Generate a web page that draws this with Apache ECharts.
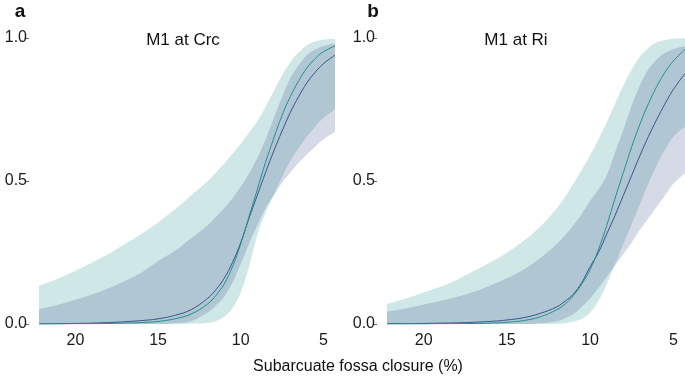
<!DOCTYPE html>
<html>
<head>
<meta charset="utf-8">
<script src="https://cdn.jsdelivr.net/npm/echarts@6/dist/echarts.min.js"></script>
<style>
  html, body { margin: 0; padding: 0; background: #fff; }
  #chart { width: 685px; height: 382px; }
</style>
</head>
<body>
<div id="chart"></div>
<script>
// x positions (subarcuate fossa closure, %), shared by every curve
var closure = [22.2, 21, 20, 19, 18, 17, 16, 15, 14, 13, 12, 11.5, 11, 10.5, 10, 9.5, 9, 8.5, 8, 7.5, 7, 6.5, 6, 5.5, 5, 4.3];
var xTicks = [5, 10, 15, 20];
var yTicks = [0, 0.5, 1];

// panel a : M1 at Crc
var tealUpperA = [0.133, 0.16, 0.186, 0.215, 0.245, 0.28, 0.315, 0.355, 0.40, 0.45, 0.50, 0.53, 0.56, 0.595, 0.63, 0.67, 0.71, 0.76, 0.815, 0.87, 0.915, 0.95, 0.975, 0.988, 0.994, 0.997];
var tealLowerA = [0, 0, 0, 0, 0, 0, 0, 0, 0.001, 0.001, 0.004, 0.01, 0.025, 0.055, 0.11, 0.2, 0.31, 0.39, 0.45, 0.515, 0.57, 0.615, 0.655, 0.69, 0.72, 0.75];
var tealLineA  = [0, 0, 0.001, 0.001, 0.002, 0.003, 0.005, 0.009, 0.018, 0.035, 0.07, 0.1, 0.14, 0.2, 0.28, 0.375, 0.47, 0.565, 0.65, 0.73, 0.795, 0.85, 0.895, 0.928, 0.952, 0.972];
var navyUpperA = [0.051, 0.068, 0.085, 0.103, 0.125, 0.15, 0.18, 0.22, 0.255, 0.30, 0.345, 0.375, 0.405, 0.44, 0.48, 0.525, 0.58, 0.645, 0.72, 0.795, 0.86, 0.905, 0.94, 0.96, 0.972, 0.982];
var navyLowerA = [0, 0, 0, 0, 0, 0, 0, 0, 0.002, 0.01, 0.04, 0.065, 0.095, 0.145, 0.21, 0.28, 0.345, 0.405, 0.45, 0.495, 0.53, 0.563, 0.593, 0.62, 0.645, 0.672];
var navyLineA  = [0, 0.001, 0.002, 0.003, 0.005, 0.008, 0.012, 0.018, 0.03, 0.05, 0.09, 0.12, 0.16, 0.215, 0.285, 0.37, 0.45, 0.53, 0.605, 0.675, 0.74, 0.795, 0.843, 0.88, 0.91, 0.94];

// panel b : M1 at Ri
var tealUpperB = [0.07, 0.09, 0.11, 0.13, 0.155, 0.185, 0.215, 0.25, 0.29, 0.34, 0.405, 0.445, 0.49, 0.54, 0.59, 0.645, 0.705, 0.77, 0.835, 0.89, 0.935, 0.965, 0.985, 0.993, 0.997, 0.999];
var tealLowerB = [0, 0, 0, 0, 0, 0, 0, 0, 0, 0, 0.001, 0.003, 0.008, 0.018, 0.04, 0.08, 0.14, 0.21, 0.28, 0.35, 0.42, 0.49, 0.555, 0.61, 0.655, 0.69];
var tealLineB  = [0, 0, 0, 0.001, 0.001, 0.002, 0.003, 0.006, 0.012, 0.025, 0.05, 0.07, 0.1, 0.14, 0.19, 0.26, 0.345, 0.44, 0.53, 0.62, 0.7, 0.77, 0.83, 0.88, 0.92, 0.96];
var navyUpperB = [0.043, 0.055, 0.068, 0.08, 0.095, 0.112, 0.135, 0.16, 0.19, 0.23, 0.28, 0.31, 0.345, 0.385, 0.43, 0.47, 0.52, 0.6, 0.68, 0.765, 0.835, 0.89, 0.925, 0.948, 0.961, 0.972];
var navyLowerB = [0, 0, 0, 0, 0, 0, 0, 0, 0, 0.003, 0.01, 0.02, 0.035, 0.06, 0.09, 0.125, 0.165, 0.205, 0.245, 0.285, 0.33, 0.37, 0.41, 0.45, 0.49, 0.527];
var navyLineB  = [0.001, 0.001, 0.002, 0.003, 0.004, 0.006, 0.009, 0.014, 0.022, 0.037, 0.06, 0.08, 0.105, 0.145, 0.2, 0.25, 0.315, 0.38, 0.45, 0.52, 0.59, 0.655, 0.715, 0.77, 0.82, 0.876];

var TEAL = '#21908C';
var NAVY = '#3B528B';
var FONT = '"Liberation Sans", Arial, sans-serif';

function pairs(ys) {
    var out = [];
    for (var i = 0; i < closure.length; ++i) {
        out.push([closure[i], ys[i]]);
    }
    return out;
}

// value first, x second: ECharts stacks on the first numeric dimension
function stackPairs(ys) {
    var out = [];
    for (var i = 0; i < closure.length; ++i) {
        out.push([ys[i], closure[i]]);
    }
    return out;
}

function diff(up, lo) {
    var out = [];
    for (var i = 0; i < up.length; ++i) {
        out.push(up[i] - lo[i]);
    }
    return out;
}

// a band = invisible lower line + stacked (upper - lower) area
function band(idx, key, lower, upper, color) {
    return [{
        type: 'line', xAxisIndex: idx, yAxisIndex: idx, stack: key,
        data: stackPairs(lower), encode: { x: 1, y: 0 }, symbol: 'none', smooth: 0.35,
        lineStyle: { opacity: 0 }, silent: true, z: 1
    }, {
        type: 'line', xAxisIndex: idx, yAxisIndex: idx, stack: key,
        data: stackPairs(diff(upper, lower)), encode: { x: 1, y: 0 }, symbol: 'none', smooth: 0.35,
        lineStyle: { opacity: 0 }, areaStyle: { color: color, opacity: 0.21 },
        silent: true, z: 1
    }];
}

function curve(idx, ys, color) {
    return {
        type: 'line', xAxisIndex: idx, yAxisIndex: idx,
        data: pairs(ys), symbol: 'none', smooth: 0.4,
        lineStyle: { color: color, width: 1 }, silent: true, z: 3
    };
}

function xAxis(idx) {
    return {
        type: 'value', gridIndex: idx, inverse: true, min: 4.3, max: 22.2,
        axisLine: { show: false }, axisTick: { show: false }, splitLine: { show: false },
        axisLabel: { customValues: xTicks, fontSize: 16, color: '#1a1a1a', fontFamily: FONT, margin: 9 }
    };
}

function yAxis(idx) {
    return {
        type: 'value', gridIndex: idx, min: 0, max: 1, offset: 10,
        axisLine: { show: false }, splitLine: { show: false },
        axisTick: { show: true, customValues: yTicks, length: 3, lineStyle: { color: '#666', width: 1 } },
        axisLabel: {
            customValues: yTicks, fontSize: 16, color: '#1a1a1a', fontFamily: FONT, margin: 2,
            formatter: function (v) { return v.toFixed(1); }
        }
    };
}

function label(x, y, text, size, weight) {
    return {
        type: 'text', x: x, y: y, silent: true,
        style: {
            text: text, fontSize: size, fontWeight: weight || 'normal', fontFamily: FONT,
            fill: '#111', align: 'center', verticalAlign: 'middle'
        }
    };
}

var series = []
    .concat(band(0, 'tealA', tealLowerA, tealUpperA, TEAL))
    .concat(band(0, 'navyA', navyLowerA, navyUpperA, NAVY))
    .concat([curve(0, navyLineA, NAVY), curve(0, tealLineA, TEAL)])
    .concat(band(1, 'tealB', tealLowerB, tealUpperB, TEAL))
    .concat(band(1, 'navyB', navyLowerB, navyUpperB, NAVY))
    .concat([curve(1, navyLineB, NAVY), curve(1, tealLineB, TEAL)]);

var option = {
    animation: false,
    backgroundColor: '#fff',
    grid: [
        { left: 39, top: 38, width: 296, height: 286 },
        { left: 387, top: 38, width: 298, height: 286 }
    ],
    xAxis: [xAxis(0), xAxis(1)],
    yAxis: [yAxis(0), yAxis(1)],
    graphic: [
        label(20, 12, 'a', 19, 'bold'),
        label(373, 12, 'b', 19, 'bold'),
        label(183, 40, 'M1 at Crc', 17),
        label(516, 40, 'M1 at Ri', 17),
        label(358, 367, 'Subarcuate fossa closure (%)', 16)
    ],
    series: series
};

echarts.init(document.getElementById('chart'), null, { renderer: 'canvas' }).setOption(option);
</script>
</body>
</html>
